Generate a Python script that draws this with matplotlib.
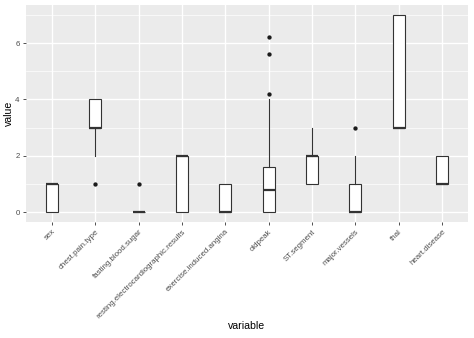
import matplotlib
matplotlib.use("Agg")
import matplotlib.pyplot as plt
from matplotlib.ticker import MultipleLocator

plt.rcParams['font.family'] = ['Liberation Sans', 'DejaVu Sans']

# box summaries
variables = ['sex', 'chest.pain.type', 'fasting.blood.sugar',
             'resting.electrocardiographic.results', 'exercise.induced.angina',
             'oldpeak', 'ST.segment', 'major.vessels', 'thal', 'heart.disease']
q1 = [0, 3, 0, 0, 0, 0.0, 1, 0, 3, 1]
med = [1, 3, 0, 2, 0, 0.8, 2, 0, 3, 1]
q3 = [1, 4, 0, 2, 1, 1.6, 2, 1, 7, 2]
whis_lo = [0, 2, 0, 0, 0, 0.0, 1, 0, 3, 1]
whis_hi = [1, 4, 0, 2, 1, 4.0, 3, 2, 7, 2]
fliers = [[], [1], [1], [], [], [4.2, 5.6, 6.2], [], [3], [], []]

stats = []
for i, v in enumerate(variables):
    stats.append(dict(label=v, q1=q1[i], med=med[i], q3=q3[i],
                      whislo=whis_lo[i], whishi=whis_hi[i], fliers=fliers[i]))

fig = plt.figure(figsize=(4.74, 3.38), dpi=100)
ax = fig.add_axes([26 / 474, 1 - 222 / 338, 442 / 474, 217 / 338])
ax.set_facecolor('#EBEBEB')

pos = list(range(1, len(variables) + 1))
ax.bxp(stats, positions=pos, widths=0.28, patch_artist=True, showcaps=False,
       boxprops=dict(facecolor='white', edgecolor='#333333', linewidth=0.8),
       whiskerprops=dict(color='#333333', linewidth=0.8),
       medianprops=dict(color='#333333', linewidth=1.6),
       flierprops=dict(marker='o', markerfacecolor='#1a1a1a', markeredgecolor='#1a1a1a',
                       markersize=2.1, linestyle='none'),
       zorder=3)

ax.set_xlim(0.4, len(variables) + 0.6)
ax.set_ylim(-0.35, 7.35)
ax.yaxis.set_major_locator(MultipleLocator(2))
ax.yaxis.set_minor_locator(MultipleLocator(1))
ax.set_xticks(pos)
ax.set_xticklabels(variables, rotation=45, ha='right', va='top',
                   rotation_mode='anchor')

ax.grid(True, which='major', color='white', linewidth=1.0, zorder=0)
ax.grid(True, which='minor', axis='y', color='white', linewidth=0.5, zorder=0)
ax.set_axisbelow(True)
for s in ax.spines.values():
    s.set_visible(False)
ax.tick_params(axis='both', which='major', length=2.5, width=0.6, color='#333333',
               labelsize=5.7, labelcolor='#4D4D4D', pad=2)
ax.tick_params(axis='y', which='minor', length=0)

ax.set_xlabel('variable', fontsize=7.6, color='black', labelpad=1)
ax.set_ylabel('value', fontsize=7.6, color='black', labelpad=1)

fig.savefig('out.png', dpi=100)
